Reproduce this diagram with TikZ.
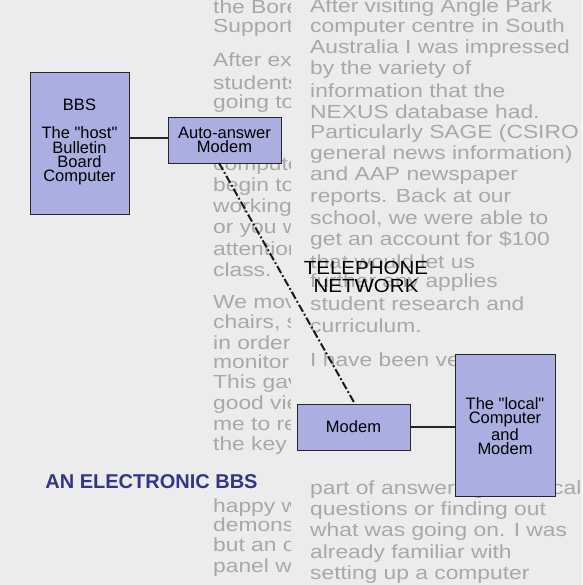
\documentclass[tikz,border=0pt]{standalone}
\usepackage{fontspec}
\setmainfont{Liberation Sans}[Ligatures=TeXOff]
\newfontfamily\ghostfont{Liberation Sans}[Ligatures=TeXOff, FakeStretch=1.2]
\newfontfamily\netfont{Liberation Sans}[Ligatures=TeXOff, FakeStretch=1.08]
\usetikzlibrary{calc}
\definecolor{bgc}{RGB}{236,236,236}
\definecolor{boxfill}{RGB}{170,174,224}
\definecolor{ttl}{RGB}{52,52,140}
\definecolor{ghost}{RGB}{168,168,168}
\begin{document}
\begin{tikzpicture}[x=1pt,y=-1pt,
  unit/.style={draw=black!85, line width=0.9pt, fill=boxfill, inner sep=0pt},
  boxtext/.style={inner sep=0pt, align=center, font=\fontsize{16.5}{14.4}\selectfont},
  link/.style={line width=2pt, black!85},
  phone/.style={line width=2pt, black!90, dash pattern=on 8pt off 2.5pt on 1.8pt off 2.5pt},
  ghosttext/.style={anchor=west, inner sep=0pt, text=ghost, font=\ghostfont\fontsize{19}{21}\selectfont}]
\useasboundingbox (0,0) rectangle (582,585);
\fill[bgc] (0,0) rectangle (582,585);

% faint page text behind the diagram
\begin{scope}
\clip (200,0) rectangle (290,585);
\foreach \t/\y in {the Borema Schools/7, Support Centre./28, After explaining to/62,
  students what we were/83, going to do I/104, computers and/166,
  begin to start/187, working on the same/208, or you will have lost their/229,
  attention at the start of the/249, class./270,
  We moved all the available/302, {chairs, some sat on the floor}/323,
  in order to see the 14-inch/343, monitor on the computer./364,
  This gave those nearest a/384, good view but it did require/405,
  me to read out constantly/426, the key things they would/446,
  happy with this way of/508, demonstrating computers/527,
  but an overhead projection/547, panel would cost/568}
  \node[ghosttext] at (213,\y) {\t};
\end{scope}
\begin{scope}
\clip (300,0) rectangle (582,585);
\foreach \t/\y in {After visiting Angle Park/8, computer centre in South/28,
  Australia I was impressed/49, by the variety of/70, information that the/91,
  NEXUS database had./112, Particularly SAGE (CSIRO/134,
  general news information)/155, and AAP newspaper/176, reports. Back at our/198,
  {school, we were able to}/219, get an account for \$100/240,
  that would let us/262, further any applies/283, student research and/304,
  curriculum./326, I have been very/362,
  part of answering technical/490, questions or finding out/511,
  what was going on. I was/532, already familiar with/554,
  setting up a computer/575}
  \node[ghosttext] at (310,\y) {\t};
\end{scope}

% boxes
\node[unit, minimum width=99pt, minimum height=142pt] (bbs) at (79.5,143) {};
\node[boxtext] (bbstext) at (79.5,142) {BBS\\[14pt]The "host"\\Bulletin\\Board\\Computer};
\node[unit, boxtext, minimum width=113pt, minimum height=46pt] (auto) at (224.5,140) {Auto-answer\\Modem};
\node[unit, boxtext, minimum width=113pt, minimum height=46pt] (modem) at (353.5,427) {Modem};
\node[unit, minimum width=100pt, minimum height=142pt] (local) at (505,425) {};
\node[boxtext] (localtext) at (505,426) {The "local"\\Computer\\and\\Modem};

% connectors
\draw[link] (auto.west) ++(0,-2) coordinate (aw) -- (aw -| bbs.east);
\draw[link] (modem.east) -- (modem.east -| local.west);
\coordinate (ta) at (219,163);
\coordinate (tb) at (355,404);
\draw[phone] (ta) -- (tb);

% labels
\node[inner sep=0pt, align=center, font=\netfont\fontsize{19}{17.5}\selectfont] (net) at (366,277) {TELEPHONE\\NETWORK};
\node[inner sep=0pt, text=ttl, font=\fontsize{20}{22}\selectfont\bfseries] (title) at (151.5,482) {AN ELECTRONIC BBS};
\end{tikzpicture}
\end{document}
